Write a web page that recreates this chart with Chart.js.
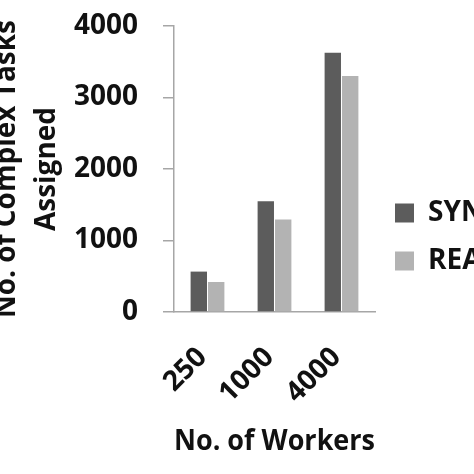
<!DOCTYPE html>
<html>
<head>
<meta charset="utf-8">
<script src="https://cdn.jsdelivr.net/npm/chart.js@4.4.0/dist/chart.umd.min.js"></script>
<style>
  html, body { margin: 0; padding: 0; background: #fff; }
  body { width: 474px; height: 474px; overflow: hidden; position: relative; }
  #chart { position: absolute; left: -30px; top: 0; }
</style>
</head>
<body>
<canvas id="chart" width="640" height="474"></canvas>
<script>
// data
const workers = ['250', '1000', '4000'];
const synValues = [565, 1550, 3625];
const realValues = [420, 1295, 3300];
const seriesNames = ['SYNTHETIC', 'REAL'];
const yTicks = [0, 1000, 2000, 3000, 4000];

const FONT = 'Open Sans';
const axisGray = '#a6a6a6';

const ctx = document.getElementById('chart').getContext('2d');

new Chart(ctx, {
  type: 'bar',
  data: {
    labels: workers,
    datasets: [
      { label: seriesNames[0], data: synValues, backgroundColor: '#5c5c5c' },
      { label: seriesNames[1], data: realValues, backgroundColor: '#b3b3b3' }
    ]
  },
  options: {
    responsive: false,
    animation: false,
    layout: { padding: { top: 0, right: 100, bottom: 0, left: 0 } },
    datasets: {
      bar: { categoryPercentage: 0.52, barPercentage: 0.94 }
    },
    plugins: {
      tooltip: { enabled: false },
      legend: {
        position: 'right',
        labels: {
          boxWidth: 19,
          boxHeight: 19,
          padding: 20,
          color: '#111',
          font: { family: FONT, size: 28, weight: 'bold' }
        }
      }
    },
    scales: {
      x: {
        grid: { display: false },
        border: { display: true, color: axisGray, width: 1.5 },
        ticks: {
          color: '#111',
          minRotation: 45,
          maxRotation: 45,
          padding: 21,
          labelOffset: -5,
          font: { family: FONT, size: 28, weight: 'bold' }
        },
        title: {
          display: true,
          text: 'No. of Workers',
          color: '#111',
          padding: { top: 0, bottom: 15 },
          font: { family: FONT, size: 29, weight: 'bold' }
        },
        afterFit: s => { s.height = 162; }
      },
      y: {
        min: 0,
        max: 4000,
        afterBuildTicks: s => { s.ticks = yTicks.map(v => ({ value: v })); },
        grid: { drawOnChartArea: false, drawTicks: true, tickLength: 11, color: axisGray, lineWidth: 1.5 },
        border: { display: true, color: axisGray, width: 1.5 },
        ticks: {
          color: '#111',
          padding: 25,
          callback: v => String(v),
          font: { family: FONT, size: 28, weight: 'bold' }
        },
        title: {
          display: true,
          text: ['No. of Complex Tasks', 'Assigned'],
          color: '#111',
          padding: { top: 17, bottom: 0 },
          font: { family: FONT, size: 28, weight: 'bold', lineHeight: 1.43 }
        },
        afterFit: s => { s.width = 204; s.paddingTop = 26; }
      }
    }
  }
});
</script>
</body>
</html>
